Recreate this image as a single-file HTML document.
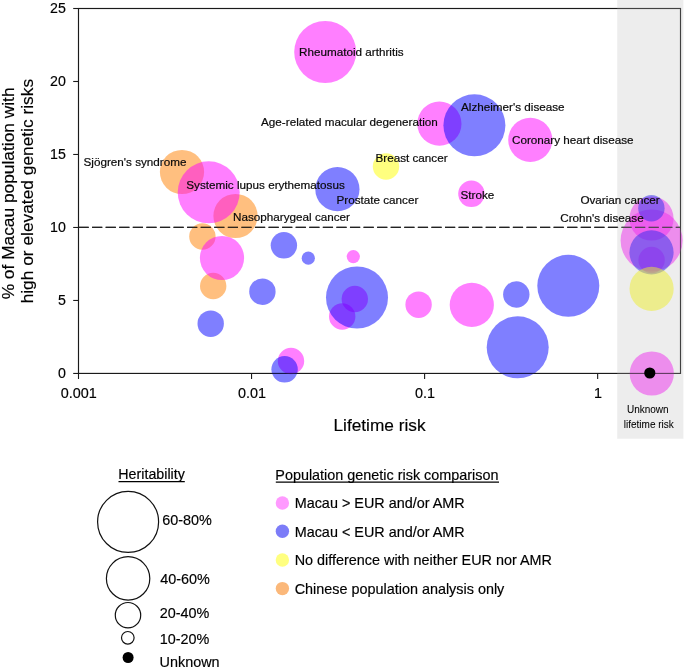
<!DOCTYPE html>
<html><head><meta charset="utf-8"><title>Lifetime risk</title>
<style>
html,body{margin:0;padding:0;background:#fff;}
svg{display:block;}
text{font-family:"Liberation Sans",Arial,Helvetica,sans-serif;fill:#000;stroke:#000;stroke-width:0.17px;}
.t14{font-size:14px;}
.t14a{font-size:14.2px;}
.t14x{font-size:14.4px;}
.t12{font-size:11.7px;stroke-width:0.2px;fill:#0a0a0a;stroke:#0a0a0a;}
.t17{font-size:17.25px;}
.t17y{font-size:17.34px;}
.t14b{font-size:14.4px;}
.t10{font-size:10px;stroke-width:0.05px;}
</style></head><body>
<svg width="685" height="671" viewBox="0 0 685 671">
<rect x="0" y="0" width="685" height="671" fill="#fff"/>

<g stroke="#1a1a1a" stroke-width="1.1" fill="none">
<rect x="78.5" y="8.5" width="602" height="364.95"/>
<line x1="73.2" y1="373.45" x2="78.5" y2="373.45"/>
<line x1="73.2" y1="300.46" x2="78.5" y2="300.46"/>
<line x1="73.2" y1="227.47" x2="78.5" y2="227.47"/>
<line x1="73.2" y1="154.48" x2="78.5" y2="154.48"/>
<line x1="73.2" y1="81.49" x2="78.5" y2="81.49"/>
<line x1="73.2" y1="8.50" x2="78.5" y2="8.50"/>
<line x1="78.50" y1="373.45" x2="78.50" y2="379"/>
<line x1="251.55" y1="373.45" x2="251.55" y2="379"/>
<line x1="424.60" y1="373.45" x2="424.60" y2="379"/>
<line x1="597.65" y1="373.45" x2="597.65" y2="379"/>
</g>
<line x1="78.5" y1="227.35" x2="680.5" y2="227.35" stroke="#222" stroke-width="1.1" stroke-dasharray="10.2 3.374"/>
<text class="t14a" x="65.8" y="377.8" text-anchor="end">0</text>
<text class="t14a" x="65.8" y="304.8" text-anchor="end">5</text>
<text class="t14a" x="65.8" y="231.8" text-anchor="end">10</text>
<text class="t14a" x="65.8" y="158.8" text-anchor="end">15</text>
<text class="t14a" x="65.8" y="85.8" text-anchor="end">20</text>
<text class="t14a" x="65.8" y="12.8" text-anchor="end">25</text>
<text class="t14x" x="78.8" y="398.2" text-anchor="middle">0.001</text>
<text class="t14x" x="251.9" y="398.2" text-anchor="middle">0.01</text>
<text class="t14x" x="424.9" y="398.2" text-anchor="middle">0.1</text>
<text class="t14x" x="598.0" y="398.2" text-anchor="middle">1</text>
<text class="t17" x="379.5" y="430.6" text-anchor="middle">Lifetime risk</text>
<text class="t17y" transform="translate(13.8,193.4) rotate(-90)" text-anchor="middle">% of Macau population with</text>
<text class="t17y" transform="translate(33.2,191.15) rotate(-90)" text-anchor="middle">high or elevated genetic risks</text>
<circle cx="182" cy="172" r="22.1" fill="rgba(255,128,0,0.5)"/>
<circle cx="235.5" cy="216" r="22.1" fill="rgba(255,128,0,0.5)"/>
<circle cx="202.4" cy="236.5" r="13.2" fill="rgba(255,128,0,0.5)"/>
<circle cx="213.2" cy="286" r="13.2" fill="rgba(255,128,0,0.5)"/>
<circle cx="386" cy="166.5" r="13.2" fill="rgba(255,255,0,0.5)"/>
<circle cx="325.2" cy="52" r="31" fill="rgba(255,0,255,0.5)"/>
<circle cx="208.7" cy="192.3" r="31" fill="rgba(255,0,255,0.5)"/>
<circle cx="222" cy="258" r="22.1" fill="rgba(255,0,255,0.5)"/>
<circle cx="439.4" cy="123.7" r="22.1" fill="rgba(255,0,255,0.5)"/>
<circle cx="530.3" cy="139.9" r="22.1" fill="rgba(255,0,255,0.5)"/>
<circle cx="471.4" cy="193.8" r="13.2" fill="rgba(255,0,255,0.5)"/>
<circle cx="353.3" cy="256.6" r="6.6" fill="rgba(255,0,255,0.5)"/>
<circle cx="354.8" cy="299" r="13.2" fill="rgba(255,0,255,0.5)"/>
<circle cx="342.2" cy="316.5" r="13.2" fill="rgba(255,0,255,0.5)"/>
<circle cx="418.6" cy="304.7" r="13.2" fill="rgba(255,0,255,0.5)"/>
<circle cx="471.8" cy="304.9" r="22.1" fill="rgba(255,0,255,0.5)"/>
<circle cx="291" cy="361" r="13.2" fill="rgba(255,0,255,0.5)"/>
<circle cx="474.4" cy="125.3" r="31" fill="rgba(0,0,255,0.5)"/>
<circle cx="337.4" cy="189.2" r="22.1" fill="rgba(0,0,255,0.5)"/>
<circle cx="283.9" cy="245.3" r="13.2" fill="rgba(0,0,255,0.5)"/>
<circle cx="308.3" cy="258.2" r="6.6" fill="rgba(0,0,255,0.5)"/>
<circle cx="262.4" cy="291.7" r="13.2" fill="rgba(0,0,255,0.5)"/>
<circle cx="210.7" cy="323.7" r="13.2" fill="rgba(0,0,255,0.5)"/>
<circle cx="284.6" cy="369.3" r="13.2" fill="rgba(0,0,255,0.5)"/>
<circle cx="357" cy="297.5" r="31" fill="rgba(0,0,255,0.5)"/>
<circle cx="516.3" cy="294.5" r="13.2" fill="rgba(0,0,255,0.5)"/>
<circle cx="568.3" cy="285.8" r="31" fill="rgba(0,0,255,0.5)"/>
<circle cx="517.7" cy="347.3" r="31" fill="rgba(0,0,255,0.5)"/>
<circle cx="651.6" cy="240.5" r="31" fill="rgba(255,0,255,0.5)"/>
<circle cx="651.5" cy="218.5" r="22.1" fill="rgba(255,0,255,0.5)"/>
<circle cx="651.6" cy="260" r="13.2" fill="rgba(255,0,255,0.5)"/>
<circle cx="651.5" cy="252.4" r="22.1" fill="rgba(0,0,255,0.5)"/>
<circle cx="651.4" cy="208.2" r="13.2" fill="rgba(0,0,255,0.5)"/>
<circle cx="651.6" cy="288.8" r="22.1" fill="rgba(255,255,0,0.5)"/>
<circle cx="651.8" cy="373.5" r="22.1" fill="rgba(255,0,255,0.5)"/>
<rect x="78.5" y="8.5" width="602" height="364.95" fill="none" stroke="#1a1a1a" stroke-width="1.1" opacity="0.6"/>
<line x1="78.5" y1="227.35" x2="680.5" y2="227.35" stroke="#222" opacity="0.85" stroke-width="1.1" stroke-dasharray="10.2 3.374"/>
<rect x="617.2" y="0" width="66.2" height="438.7" fill="rgba(183,183,183,0.25)"/>
<g>
<text class="t12" x="299" y="56.3">Rheumatoid arthritis</text>
<text class="t12" x="437.8" y="126.1" text-anchor="end">Age-related macular degeneration</text>
<text class="t12" x="461" y="111">Alzheimer's disease</text>
<text class="t12" x="512" y="144.2">Coronary heart disease</text>
<text class="t12" x="375.5" y="161.8">Breast cancer</text>
<text class="t12" x="186.5" y="165.9" text-anchor="end">Sjögren's syndrome</text>
<text class="t12" x="344.8" y="188.7" text-anchor="end">Systemic lupus erythematosus</text>
<text class="t12" x="336.5" y="203.6">Prostate cancer</text>
<text class="t12" x="460.5" y="198.7">Stroke</text>
<text class="t12" x="350" y="220.5" text-anchor="end">Nasopharygeal cancer</text>
<text class="t12" x="580.4" y="204.1">Ovarian cancer</text>
<text class="t12" x="560.2" y="221.8">Crohn's disease</text>
</g>
<circle cx="649.8" cy="373" r="5.6" fill="#000"/>
<text class="t10" x="647.8" y="413.1" text-anchor="middle">Unknown</text>
<text class="t10" x="648.8" y="427.6" text-anchor="middle">lifetime risk</text>
<text class="t14" style="font-size:14.25px" x="118.3" y="479.1">Heritability</text>
<line x1="118.5" y1="481.6" x2="184.8" y2="481.6" stroke="#000" stroke-width="1.25"/>
<g stroke="#111" stroke-width="1.2" fill="#fff">
<circle cx="128.1" cy="521.9" r="30.5"/>
<circle cx="128.1" cy="578.4" r="21.7"/>
<circle cx="128" cy="615.2" r="12.7"/>
<circle cx="127.8" cy="637.8" r="6.3"/>
</g>
<circle cx="128.1" cy="657.5" r="5.5" fill="#000"/>
<text class="t14b" x="162.2" y="525.1">60-80%</text>
<text class="t14b" x="160.3" y="584.1">40-60%</text>
<text class="t14b" x="159.8" y="617.5">20-40%</text>
<text class="t14b" x="159.8" y="644.4">10-20%</text>
<text class="t14b" x="159.6" y="667">Unknown</text>
<text class="t14b" x="275.3" y="479.8">Population genetic risk comparison</text>
<line x1="275.8" y1="482" x2="499" y2="482" stroke="#000" stroke-width="1.25"/>
<circle cx="282.4" cy="503" r="6.7" fill="#ff9aff"/>
<text class="t14b" x="294.7" y="508.0">Macau &gt; EUR and/or AMR</text>
<circle cx="282.4" cy="531.3" r="6.7" fill="#7c7cf8"/>
<text class="t14b" x="294.7" y="536.6">Macau &lt; EUR and/or AMR</text>
<circle cx="282.4" cy="560" r="6.7" fill="#ffff80"/>
<text class="t14b" x="294.7" y="564.8000000000001">No difference with neither EUR nor AMR</text>
<circle cx="282.4" cy="588.6" r="6.7" fill="#fbb87a"/>
<text class="t14b" x="294.7" y="594.2">Chinese population analysis only</text>
</svg></body></html>
